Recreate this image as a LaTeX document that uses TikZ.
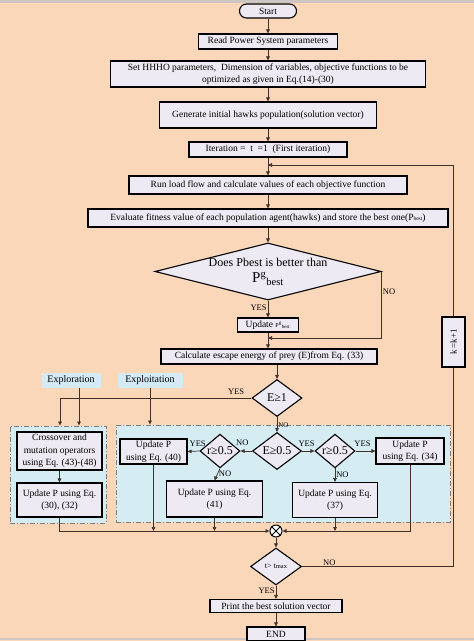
\documentclass[tikz,border=0pt]{standalone}
\usepackage{fontspec}
\setmainfont{Liberation Serif}
\usetikzlibrary{arrows.meta, shapes, positioning}
\definecolor{peach}{RGB}{251,215,186}
\definecolor{boxlilac}{RGB}{237,234,243}
\definecolor{zoneblue}{RGB}{214,236,243}
\definecolor{tagblue}{RGB}{212,235,246}
\definecolor{zonegray}{RGB}{125,125,125}
\definecolor{wireblack}{RGB}{65,48,40}
\definecolor{rimgray}{RGB}{205,198,194}
\tikzset{stepbox/.style={rectangle, draw=black, line width=1.1pt, fill=boxlilac, inner sep=1pt, align=center, font={\fontsize{9.5}{12.5}\selectfont}},
testbox/.style={diamond, draw=black, line width=1.1pt, fill=boxlilac, inner sep=0pt, align=center, font={\fontsize{12}{12}\selectfont}}}
\tikzset{zonebox/.style={rectangle, draw=zonegray, dash pattern=on 5pt off 2pt on 1pt off 2pt, line width=0.9pt, fill=zoneblue},
tagbox/.style={rectangle, fill=tagblue, inner sep=0pt, font={\fontsize{10}{12}\selectfont}},
flow/.style={-{Triangle[length=4pt, width=3.6pt]}, draw=wireblack, line width=0.7pt},
wire/.style={draw=wireblack, line width=0.7pt},
answer/.style={inner sep=1pt, font={\fontsize{8.5}{10}\selectfont}}}

\begin{document}
\begin{tikzpicture}[x=1pt, y=-1pt]
        % Background
        \useasboundingbox (0,0) rectangle (474,641);
        \fill[peach] (0,0) rectangle (474,641);
        \fill[rimgray] (0,0) rectangle (474,2.5);
        \fill[rimgray] (0,638) rectangle (474,639.5);
        % Zones
        \node[zonebox, minimum width=96pt, minimum height=97pt] (explorzone) at (58,474.5) {};
        \node[zonebox, minimum width=334pt, minimum height=97pt] (exploitzone) at (283,473.5) {};
        \node[tagbox, minimum width=59pt, minimum height=15pt] (explortag) at (71,380) {Exploration};
        \node[tagbox, minimum width=65pt, minimum height=15pt] (exploittag) at (150,380) {Exploitation};
        % Main steps
        \node[stepbox, rounded corners=7pt, minimum width=57pt, minimum height=14pt] (start) at (268,11) {Start};
        \node[stepbox, minimum width=139pt, minimum height=15pt] (readp) at (268,41.5) {Read Power System parameters};
        \node[stepbox, minimum width=315pt, minimum height=26pt] (sethho) at (268,74) {Set HHHO parameters,\ \ Dimension of variables, objective functions to be\\optimized as given in Eq.(14)-(30)};
        \node[stepbox, minimum width=217pt, minimum height=26pt] (genpop) at (268,115) {Generate initial hawks population(solution vector)};
        \node[stepbox, minimum width=158pt, minimum height=15pt] (iter) at (268,149.5) {Iteration =\ \ t\ \ =1\ \ (First iteration)};
        \coordinate (loopin) at (268,165);
        \node[stepbox, minimum width=278pt, minimum height=18pt] (runlf) at (268,185) {Run load flow and calculate values of each objective function};
        \node[stepbox, minimum width=360pt, minimum height=18pt] (evalfit) at (268,218) {Evaluate fitness value of each population agent(hawks) and store the best one(P{\fontsize{5.5}{6}\selectfont best})};
        \node[testbox, minimum width=226pt, minimum height=57pt] (better) at (268,271.5) {};
        \node[align=center, inner sep=0pt] (bettertext) at (268,272) {{\fontsize{12}{13}\selectfont Does Pbest is better than}\\[4pt]{\fontsize{15}{15}\selectfont P\textsuperscript{g}\textsubscript{best}}};
        \node[stepbox, minimum width=61pt, minimum height=14pt] (updbest) at (268,325) {Update {\fontsize{6}{7}\selectfont P\textsuperscript{g}\textsubscript{best}}};
        \coordinate (nojoin) at (268,338);
        \node[stepbox, minimum width=216pt, minimum height=15pt] (escape) at (269,356.5) {Calculate escape energy of prey (E)from Eq. (33)};
        \node[testbox, minimum width=50pt, minimum height=37pt] (e1) at (277,398) {E≥1};
        \coordinate (yesturn) at (60,398);
        \coordinate (explorfoot) at (79,388);
        % Exploration and exploitation steps
        \node[stepbox, minimum width=85pt, minimum height=38pt] (cross) at (59.5,451) {Crossover and\\mutation operators\\using Eq. (43)-(48)};
        \node[stepbox, minimum width=85pt, minimum height=34pt] (upd3032) at (59.5,500) {Update P using Eq.\\(30), (32)};
        \node[testbox, minimum width=49pt, minimum height=28pt] (e05) at (277,451) {E≥0.5};
        \node[testbox, minimum width=40pt, minimum height=28pt] (rleft) at (220,451) {r≥0.5};
        \node[testbox, minimum width=40pt, minimum height=28pt] (rright) at (335,451) {r≥0.5};
        \node[stepbox, minimum width=67pt, minimum height=25pt] (upd40) at (153.5,451.5) {Update P\\using Eq. (40)};
        \node[stepbox, minimum width=96pt, minimum height=36pt] (upd41) at (214.5,499) {Update P using Eq.\\(41)};
        \node[stepbox, minimum width=68pt, minimum height=26pt] (upd34) at (410,451) {Update P\\using Eq. (34)};
        \node[stepbox, minimum width=85pt, minimum height=35pt] (upd37) at (335,500) {Update P using Eq.\\(37)};
        % Merge and stop
        \node[circle, draw=black, line width=1pt, fill=white, minimum size=12pt, inner sep=0pt] (merge) at (276,531) {};
        \draw[line width=0.9pt] (merge.45) -- (merge.225) (merge.135) -- (merge.315);
        \node[testbox, minimum width=51pt, minimum height=37pt, font={\fontsize{8}{9}\selectfont}] (tcheck) at (276,566.5) {t> t{\fontsize{6.5}{7}\selectfont max}};
        \node[stepbox, rotate=90, minimum width=50pt, minimum height=23pt, font={\fontsize{9}{10}\selectfont}] (kstep) at (453.5,342) {k =k+1};
        \node[stepbox, minimum width=132pt, minimum height=13pt] (printv) at (276,606) {Print the best solution vector};
        \node[stepbox, minimum width=58pt, minimum height=14pt] (finish) at (276,634) {END};
        % Connectors
        \draw[flow] (start) -- (readp);
        \draw[flow] (readp) -- (sethho);
        \draw[flow] (sethho) -- (genpop);
        \draw[flow] (genpop) -- (iter);
        \draw[flow] (iter) -- (runlf);
        \draw[flow] (runlf) -- (evalfit);
        \draw[flow] (evalfit) -- (better);
        \draw[flow] (better) -- node[answer, left, pos=0.45] (yesbetter) {YES} (updbest);
        \draw[flow] (better.east) |- node[answer, right, pos=0.15] (nobetter) {NO} (nojoin);
        \draw[flow] (updbest) -- (updbest |- escape.north);
        \draw[flow] (escape.south -| e1) -- (e1);
        \draw[wire] (e1.west) -- node[answer, above=2pt, pos=0.08] (yesexplore) {YES} (yesturn);
        \draw[flow] (yesturn) -- (yesturn |- explorzone.north);
        \draw[flow] (explorfoot) -- (explorfoot |- explorzone.north);
        \draw[flow] (exploittag.south) -- (exploittag.south |- exploitzone.north);
        \draw[flow] (e1) -- node[answer, right, pos=0.55, font={\fontsize{7}{8}\selectfont}] (noexplore) {NO} (e05);
        \draw[flow] (cross) -- (upd3032);
        \draw[flow] (e05.west) -- node[answer, above=4pt, pos=0.84] (nohard) {NO} (rleft.east);
        \draw[flow] (rleft.west) -- node[answer, above=3pt, pos=0.15] (yessoft) {YES} (upd40.east);
        \draw[flow] (rleft.south) -- node[answer, right, pos=0.45] (nosoft) {NO} (upd41.north);
        \draw[flow] (e05.east) -- node[answer, above=3pt, pos=0.37] (yesrapid) {YES} (rright.west);
        \draw[flow] (rright.east) -- node[answer, above=3pt, pos=0.35] (yesbesiege) {YES} (upd34.west);
        \draw[flow] (rright.south) -- node[answer, right, pos=0.45] (nobesiege) {NO} (upd37.north);
        \draw[flow] (upd3032.south) |- (merge.west);
        \draw[flow] (upd40.south) -- (upd40.south |- merge);
        \draw[flow] (upd41.south) -- (upd41.south |- merge);
        \draw[flow] (upd37.south) -- (upd37.south |- merge);
        \draw[flow] (upd34.south) |- (merge.east);
        \draw[flow] (merge) -- (tcheck);
        \draw[flow] (tcheck) -- node[answer, left, pos=0.4] (yesstop) {YES} (printv);
        \draw[flow] (printv) -- (finish);
        \draw[wire] (tcheck.east) -| node[answer, above, pos=0.09] (nostop) {NO} (kstep.west);
        \draw[flow] (kstep.east) |- (loopin);
\end{tikzpicture}
\end{document}
